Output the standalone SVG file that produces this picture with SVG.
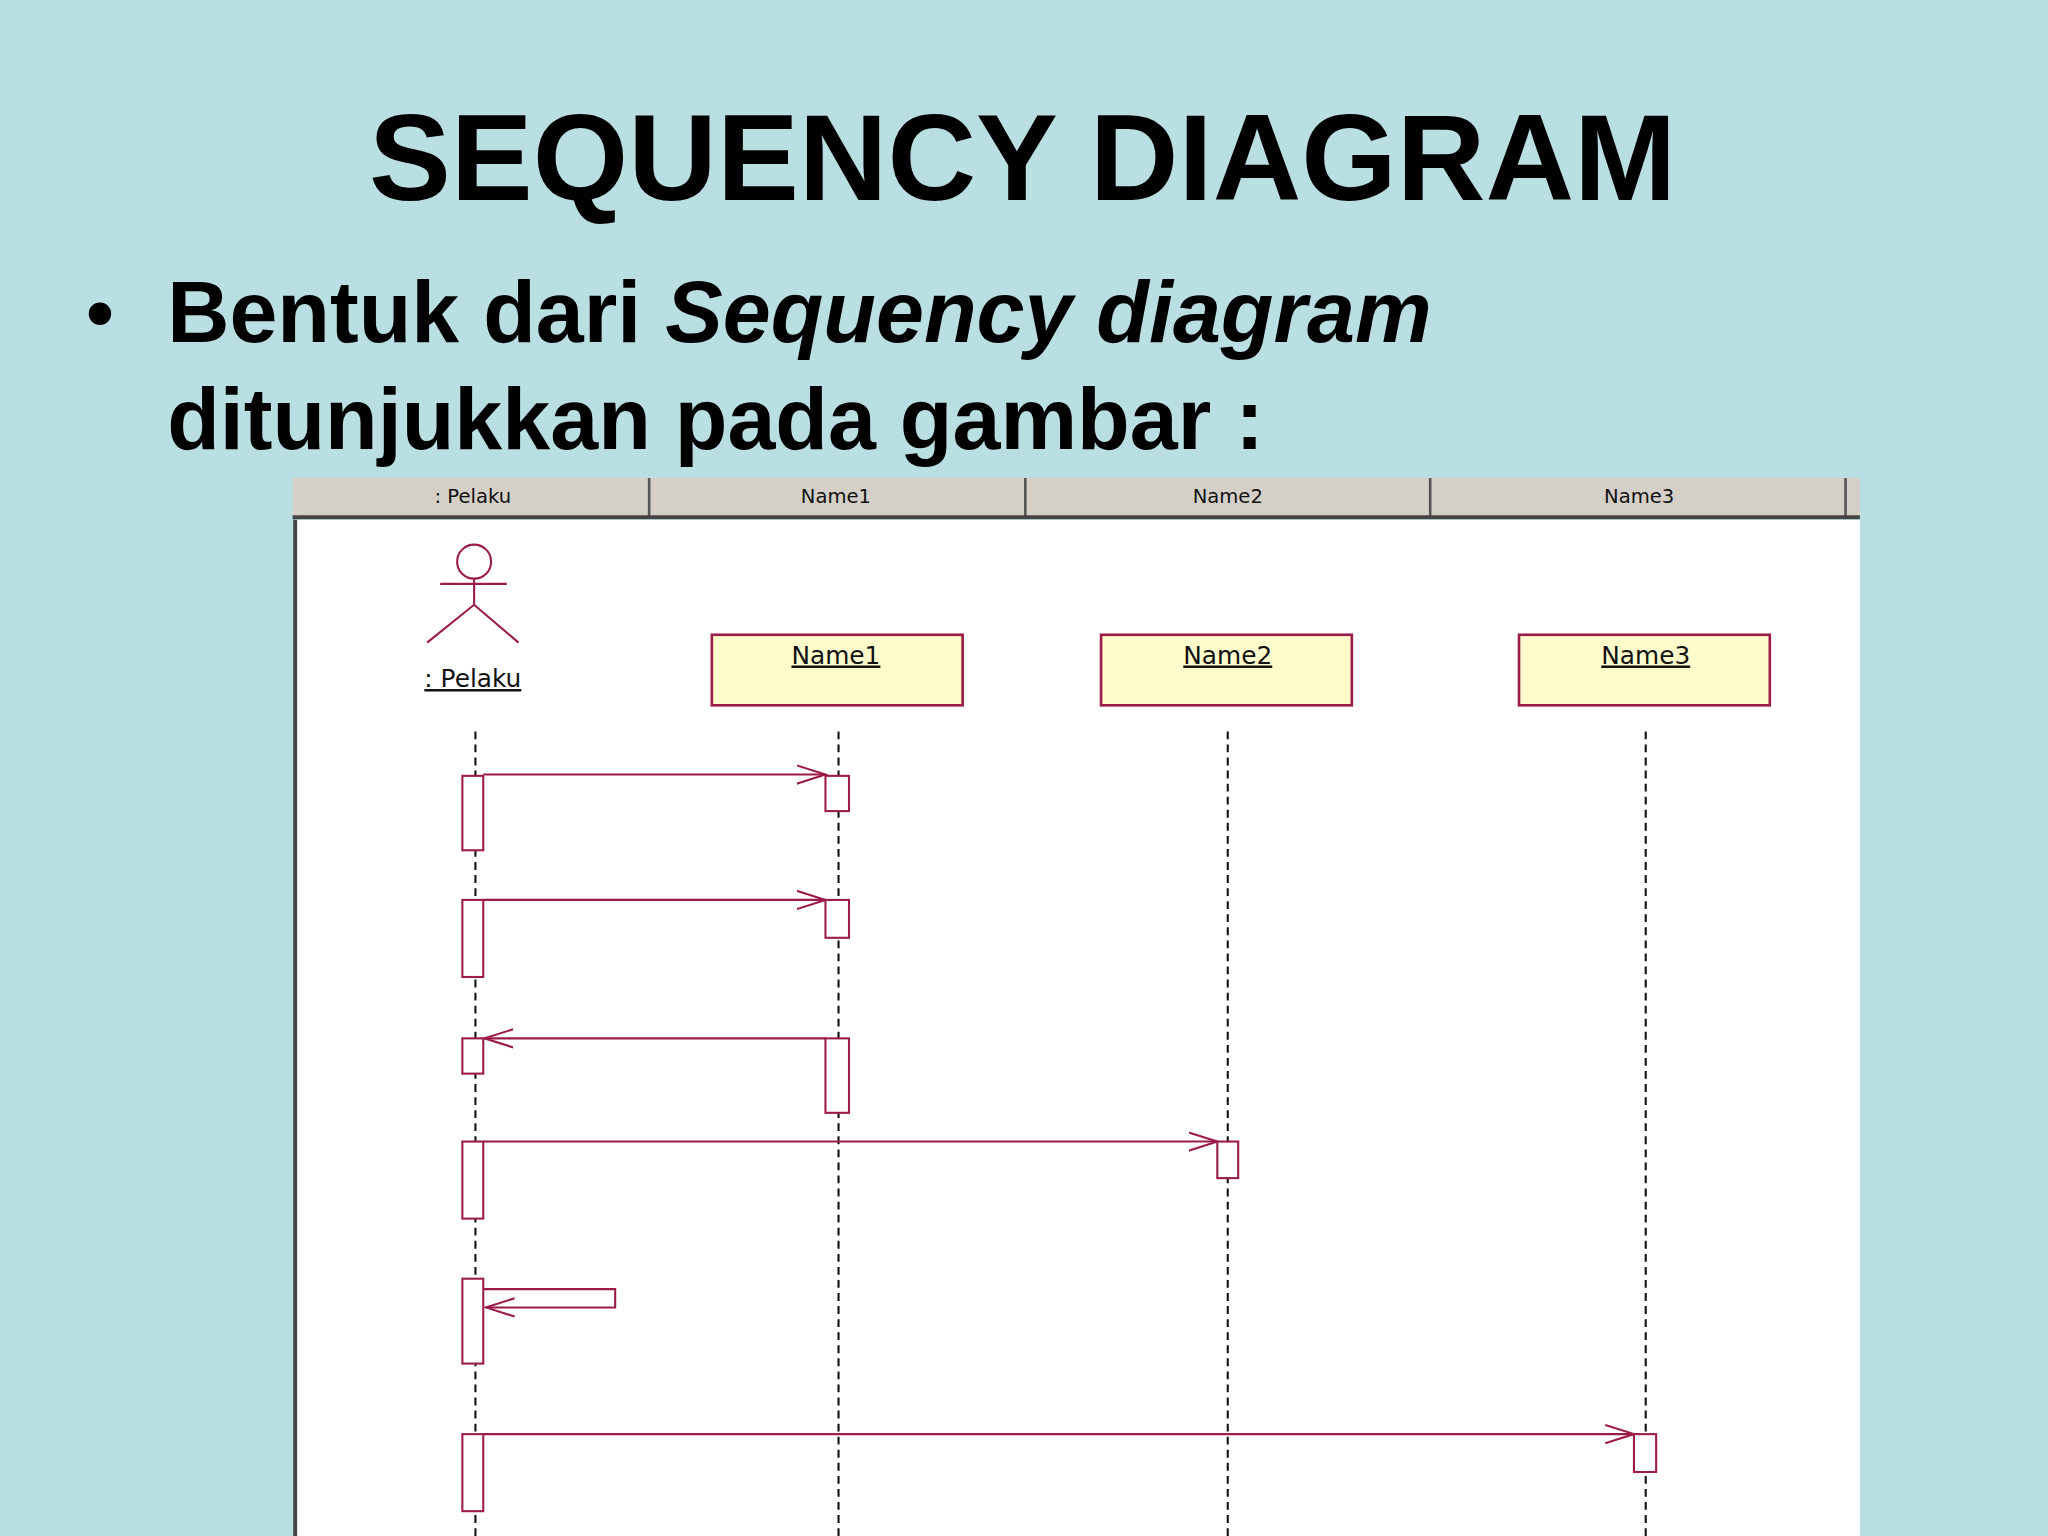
<svg xmlns="http://www.w3.org/2000/svg" width="2048" height="1536" viewBox="0 0 2048 1536">
<style>
.t{font-family:"Liberation Sans",Arial,sans-serif;font-weight:bold;fill:#000}
.h{font-family:"DejaVu Sans",sans-serif;font-size:15px;fill:#111;text-anchor:middle}
.c{stroke:#9b1b4a;stroke-width:1.6;fill:none}
.a{fill:#fff;stroke:#9b1b4a;stroke-width:1.6}
.b{fill:#fffccc;stroke:#9b1b4a;stroke-width:2}
.l{stroke:#111;stroke-width:1.6;stroke-dasharray:6,4}
.n{font-family:"DejaVu Sans",sans-serif;font-size:19px;fill:#111;text-anchor:middle;text-decoration:underline}
</style>
<defs><marker id="m" markerWidth="24" markerHeight="16" refX="22" refY="8" orient="auto" markerUnits="userSpaceOnUse"><path d="M0,1 L22,8 L0,15" fill="none" stroke="#9b1b4a" stroke-width="1.6"/></marker></defs>
<rect width="2048" height="1536" fill="#b9dfe3"/>
<g transform="scale(1.30612)">
<text class="t" x="783" y="153" font-size="94" text-anchor="middle">SEQUENCY DIAGRAM</text>
<text class="t" x="66" y="260" font-size="60">•</text>
<text class="t" x="128" y="262" font-size="66">Bentuk dari <tspan font-style="italic">Sequency diagram</tspan></text>
<text class="t" x="128" y="344" font-size="66">ditunjukkan pada gambar :</text>
<g id="panel">
<rect x="224" y="366" width="1200" height="31" fill="#d4d0c8"/>
<g stroke="#555" stroke-width="2"><line x1="497" y1="366" x2="497" y2="396"/><line x1="785" y1="366" x2="785" y2="396"/><line x1="1095" y1="366" x2="1095" y2="396"/><line x1="1413" y1="366" x2="1413" y2="396"/></g>
<line x1="224" y1="396" x2="1424" y2="396" stroke="#444" stroke-width="3"/>
<text class="h" x="362" y="385">: Pelaku</text><text class="h" x="640" y="385">Name1</text><text class="h" x="940" y="385">Name2</text><text class="h" x="1255" y="385">Name3</text>
<rect x="226" y="398" width="1198" height="780" fill="#fff"/>
<line x1="226" y1="398" x2="226" y2="1176" stroke="#444" stroke-width="3"/>
</g>
<g id="actor" class="c"><circle cx="363" cy="430" r="13"/><line x1="363" y1="443" x2="363" y2="463"/><line x1="337" y1="447" x2="388" y2="447"/><path d="M327,492 L363,463 L397,492"/></g>
<text class="n" x="362" y="526" font-size="16">: Pelaku</text>
<g id="name1"><rect class="b" x="545" y="486" width="192" height="54"/><text class="n" x="640" y="508">Name1</text></g>
<g id="name2"><rect class="b" x="843" y="486" width="192" height="54"/><text class="n" x="940" y="508">Name2</text></g>
<g id="name3"><rect class="b" x="1163" y="486" width="192" height="54"/><text class="n" x="1260" y="508">Name3</text></g>
<g id="lifelines"><line class="l" x1="364" y1="560" x2="364" y2="1176"/><line class="l" x1="642" y1="560" x2="642" y2="1176"/><line class="l" x1="940" y1="560" x2="940" y2="1176"/><line class="l" x1="1260" y1="560" x2="1260" y2="1176"/></g>
<g id="activations">
<rect class="a" x="354" y="594" width="16" height="57"/><rect class="a" x="354" y="689" width="16" height="59"/><rect class="a" x="354" y="795" width="16" height="27"/><rect class="a" x="354" y="874" width="16" height="59"/><rect class="a" x="354" y="979" width="16" height="65"/><rect class="a" x="354" y="1098" width="16" height="59"/>
<rect class="a" x="632" y="594" width="18" height="27"/><rect class="a" x="632" y="689" width="18" height="29"/><rect class="a" x="632" y="795" width="18" height="57"/>
<rect class="a" x="932" y="874" width="16" height="28"/><rect class="a" x="1251" y="1098" width="17" height="29"/>
</g>
<g id="connectors" class="c" marker-end="url(#m)">
<line x1="370" y1="593" x2="632" y2="593"/><line x1="370" y1="689" x2="632" y2="689"/><line x1="632" y1="795" x2="371" y2="795"/><line x1="370" y1="874" x2="932" y2="874"/>
<path d="M370,987 H471 V1001 H372"/><line x1="370" y1="1098" x2="1251" y2="1098"/>
</g>
</g>
</svg>
